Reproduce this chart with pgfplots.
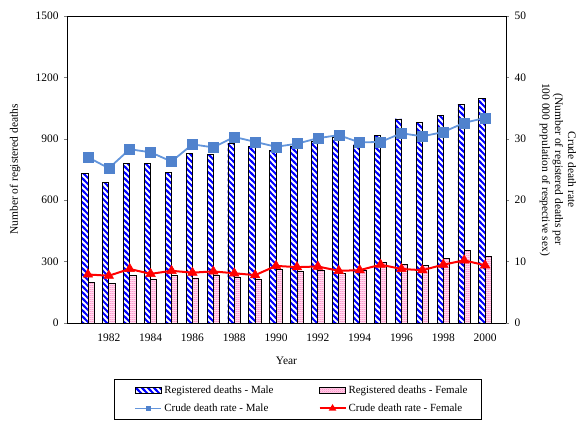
\documentclass[border=0pt]{standalone}
\usepackage{fontspec}
\setmainfont{Liberation Serif}
\usepackage{pgfplots}
\usepackage{pgfplotstable}
\pgfplotsset{compat=1.18}
\usetikzlibrary{patterns}

\definecolor{stripeblue}{RGB}{0,0,255}
\definecolor{checkpink}{RGB}{255,120,190}
\definecolor{pinkbg}{RGB}{255,215,235}
\definecolor{rateblue}{RGB}{100,150,220}
\definecolor{markblue}{RGB}{80,130,205}

\pgfdeclarepatternformonly{mstripes}{\pgfqpoint{-1bp}{-1bp}}{\pgfqpoint{7bp}{7bp}}{\pgfqpoint{6bp}{6bp}}{%
  \pgfsetlinewidth{1.8bp}%
  \pgfpathmoveto{\pgfqpoint{-1bp}{7bp}}\pgfpathlineto{\pgfqpoint{7bp}{-1bp}}%
  \pgfpathmoveto{\pgfqpoint{-1bp}{1bp}}\pgfpathlineto{\pgfqpoint{1bp}{-1bp}}%
  \pgfpathmoveto{\pgfqpoint{5bp}{7bp}}\pgfpathlineto{\pgfqpoint{7bp}{5bp}}%
  \pgfusepath{stroke}}

\pgfdeclarepatterninherentlycolored{fcheckscol}{\pgfqpoint{0bp}{0bp}}{\pgfqpoint{2bp}{2bp}}{\pgfqpoint{2bp}{2bp}}{%
  \pgfsetfillcolor{pinkbg}%
  \pgfpathrectangle{\pgfqpoint{0bp}{0bp}}{\pgfqpoint{2bp}{2bp}}%
  \pgfusepath{fill}%
  \pgfsetfillcolor{checkpink}%
  \pgfpathrectangle{\pgfqpoint{0bp}{0bp}}{\pgfqpoint{1bp}{1bp}}%
  \pgfpathrectangle{\pgfqpoint{1bp}{1bp}}{\pgfqpoint{1bp}{1bp}}%
  \pgfusepath{fill}}

\pgfkeys{/pgf/number format/1000 sep={}}

\pgfplotsset{
  mybarlegend/.style={legend image code/.code={\path[draw=none,fill=none] (0bp,0bp) -- (10bp,0bp); \draw[##1] (10bp,-3bp) rectangle (36bp,3bp);}},
  mylinelegend/.style={legend image code/.code={\path[draw=none,fill=none] (0bp,0bp) -- (10bp,0bp); \draw[sharp plot,mark repeat=2,mark phase=2,##1] plot coordinates {(10bp,0bp)(23bp,0bp)(36bp,0bp)};}},
  mybase/.style={
    at={(67bp,115bp)}, anchor=south west, scale only axis,
    width=439bp, height=307bp,
    xmin=1980, xmax=2001,
    tick label style={font=\fontsize{11.5}{13}\selectfont},
    label style={font=\fontsize{11.5}{13}\selectfont},
    /pgf/number format/assume math mode=true,
    tick align=outside, major tick length=3bp,
  }
}

\pgfplotstableread{
year male female mrate frate
1981 732 200 27.0 7.9
1982 688 195 25.2 7.7
1983 781 231 28.3 8.8
1984 781 211 27.8 8.0
1985 737 231 26.3 8.5
1986 830 220 29.1 8.2
1987 822 234 28.6 8.4
1988 878 224 30.3 8.1
1989 861 215 29.5 7.8
1990 841 262 28.7 9.3
1991 861 251 29.2 9.1
1992 885 259 30.1 9.2
1993 905 243 30.6 8.5
1994 870 259 29.4 8.6
1995 917 295 29.5 9.5
1996 997 287 30.9 8.8
1997 981 283 30.4 8.6
1998 1015 317 31.1 9.5
1999 1069 353 32.6 10.2
2000 1095 327 33.4 9.4
}\data

\begin{document}
\begin{tikzpicture}
\useasboundingbox (0,0) rectangle (585bp,438bp);
\begin{axis}[
  mybase,
  ymin=0, ymax=1500,
  ytick={0,300,...,1500},
  xtick={1982,1984,...,2000},
  xtick pos=left, ytick pos=left,
  x tick style={draw=none},
  xticklabel style={yshift=-4bp},
  yticklabel style={xshift=-2bp},
  ybar=0pt, bar width=0.3,
  xlabel={Year},
  xlabel style={at={(axis description cs:0.5,-0.124)}, anchor=center},
  ylabel={Number of registered deaths},
  ylabel style={at={(axis description cs:-0.118,0.5)}, anchor=center},
  legend columns=2,
  legend cell align=left,
  legend style={at={(axis description cs:0.525,-0.249)}, anchor=center,
    font=\fontsize{11}{13}\selectfont, draw=black, line width=0.8bp,
    inner xsep=11.5bp, inner ysep=4bp, row sep=5bp,
    /tikz/every even column/.append style={column sep=34bp}},
]
\addplot[draw=black, line width=0.8bp, pattern=mstripes, pattern color=stripeblue, mybarlegend]
  table[x=year, y=male]{\data};
\addlegendentry{Registered deaths - Male}
\addplot[draw=black, line width=0.8bp, pattern=fcheckscol, mybarlegend]
  table[x=year, y=female]{\data};
\addlegendentry{Registered deaths - Female}
\addlegendimage{mylinelegend, sharp plot, color=rateblue, line width=1.8bp, mark=square*, mark size=2bp, mark options={fill=markblue, draw=markblue}}
\addlegendentry{Crude death rate - Male}
\addlegendimage{mylinelegend, sharp plot, color=red, line width=2bp, mark=triangle*, mark size=2.5bp}
\addlegendentry{Crude death rate - Female}
\end{axis}
\begin{axis}[
  mybase,
  ymin=0, ymax=50,
  ytick={0,10,...,50},
  axis x line=none,
  axis y line*=right,
  yticklabel style={xshift=2bp},
  ylabel={Crude death rate\\(Number of registered deaths per\\100 000 population of respective sex)},
  ylabel style={at={(axis description cs:1.118,0.5)}, anchor=center, rotate=180, align=center},
]
\addplot[color=rateblue, line width=1.8bp, mark=square*, mark size=5bp, mark options={fill=markblue, draw=markblue, line width=0.5bp}]
  table[x=year, y=mrate]{\data};
\addplot[color=red, line width=2bp, mark=triangle*, mark size=5.5bp, mark options={fill=red, line width=0.5bp}]
  table[x=year, y=frate]{\data};
\end{axis}
\end{tikzpicture}
\end{document}
